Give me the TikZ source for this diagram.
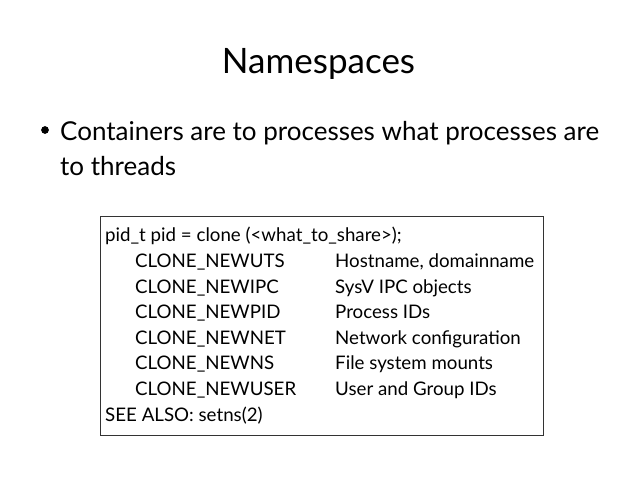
\documentclass[tikz,border=0pt]{standalone}
\usepackage{fontspec}
\setmainfont{Lato}
\begin{document}
\begin{tikzpicture}[x=1pt,y=-1pt,
  txt/.style={inner sep=0pt,anchor=base west},
  title/.style={inner sep=0pt,anchor=base,font=\fontsize{35}{35}\selectfont},
  bul/.style={txt,font=\fontsize{26}{26}\selectfont},
  code/.style={txt,font=\fontsize{18.7}{18.7}\selectfont},
  frame/.style={draw=black!80,line width=0.8pt},
  dot/.style={circle,fill=black,draw=black,line width=0.6pt,inner sep=0pt,minimum size=7pt}]
\useasboundingbox (0,0) rectangle (638,479);
\node[title] (t) at (318.5,73) {Namespaces};
\node[dot] (d) at (45,130) {};
\node[bul] (b1) at (60,140) {Containers are to processes what processes are};
\node[bul] (b2) at (60,175) {to threads};
\draw[frame] (100,216) rectangle (543,435);
\node[code] (c0) at (105,241) {pid\_t pid = clone (<what\_to\_share>);};
\node[code] (c1) at (135,267.5) {CLONE\_NEWUTS};
\node[code] (c2) at (135,293) {CLONE\_NEWIPC};
\node[code] (c3) at (135,318.5) {CLONE\_NEWPID};
\node[code] (c4) at (135,344) {CLONE\_NEWNET};
\node[code] (c5) at (135,369.5) {CLONE\_NEWNS};
\node[code] (c6) at (135,395) {CLONE\_NEWUSER};
\node[code] (c7) at (105,421) {SEE ALSO: setns(2)};
\node[code] (d1) at (335,267.5) {Hostname, domainname};
\node[code] (d2) at (335,293) {SysV IPC objects};
\node[code] (d3) at (335,318.5) {Process IDs};
\node[code] (d4) at (335,344) {Network configuration};
\node[code] (d5) at (335,369.5) {File system mounts};
\node[code] (d6) at (335,395) {User and Group IDs};
\end{tikzpicture}
\end{document}
